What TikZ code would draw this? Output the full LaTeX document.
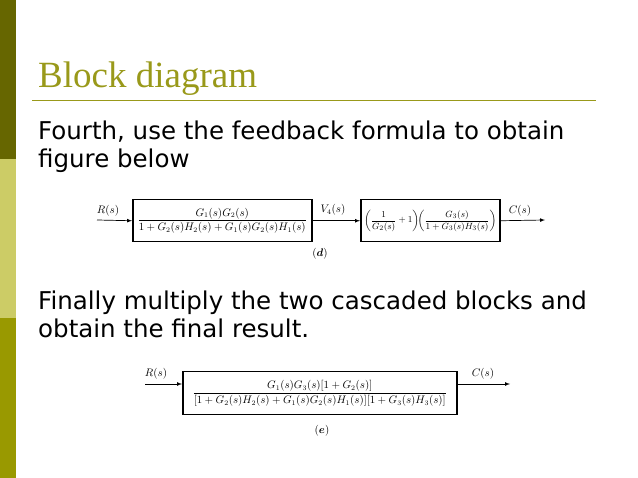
\documentclass[tikz,border=0pt]{standalone}
\usepackage{fontspec}
\setmainfont{DejaVu Sans}
\newfontfamily\titlefont{Liberation Serif}
\usepackage{amsmath}
\definecolor{olive1}{HTML}{666600}
\definecolor{olive2}{HTML}{CCCC66}
\definecolor{olive3}{HTML}{999900}
\definecolor{titlecol}{HTML}{99991A}
\begin{document}
\begin{tikzpicture}[x=1pt,y=-1pt,
  blk/.style={draw,line width=1.5pt,inner sep=0pt,anchor=north west},
  sig/.style={-latex,line width=0.7pt},
  lbl/.style={font=\fontsize{10.5}{11}\selectfont,inner sep=0pt},
  body/.style={anchor=base west,inner sep=0pt,font=\fontsize{24.5}{25}\selectfont}]
\useasboundingbox (0,0) rectangle (638,478);
\fill[olive1] (0,0) rectangle (16,159);
\fill[olive2] (0,159) rectangle (16,318);
\fill[olive3] (0,318) rectangle (16,478);
\node[anchor=base west,inner sep=0pt,text=titlecol,font=\titlefont\fontsize{37}{38}\selectfont] (title) at (38,88) {Block diagram};
\draw[titlecol,line width=1pt] (32,101) -- (596,101);
\node[body] (t1) at (38,140) {Fourth, use the feedback formula to obtain};
\node[body] (t2) at (38,168) {figure below};
\node[body] (t3) at (38,310) {Finally multiply the two cascaded blocks and};
\node[body] (t4) at (38,338) {obtain the final result.};
% diagram d
\node[blk,minimum width=179,minimum height=42] (b1) at (132,199) {};
\node[lbl] at (b1.center) {$\dfrac{G_1(s)G_2(s)}{1+G_2(s)H_2(s)+G_1(s)G_2(s)H_1(s)}$};
\node[blk,minimum width=139,minimum height=42] (b2) at (360,199) {};
\node[lbl,font=\fontsize{9.5}{10}\selectfont] at (b2.center) {$\left(\dfrac{1}{G_2(s)}+1\right)\!\!\left(\dfrac{G_3(s)}{1+G_3(s)H_3(s)}\right)$};
\coordinate (rin) at (97,220);
\coordinate (cout) at (545,220);
\draw[sig] (rin) -- (b1.west);
\draw[sig] (b1.east) -- (b2.west);
\draw[sig] (b2.east) -- (cout);
\node[lbl] (R1) at (108,211) {$R(s)$};
\node[lbl] (V4) at (333,210) {$V_4(s)$};
\node[lbl] (C1) at (520,211) {$C(s)$};
\node[lbl] (d) at (320,254) {$(\boldsymbol{d})$};
% diagram e
\node[blk,minimum width=274,minimum height=43] (b3) at (182,371) {};
\node[lbl] at (b3.center) {$\dfrac{G_1(s)G_3(s)[1+G_2(s)]}{[1+G_2(s)H_2(s)+G_1(s)G_2(s)H_1(s)][1+G_3(s)H_3(s)]}$};
\coordinate (rin2) at (145,384);
\coordinate (cout2) at (510,384);
\draw[sig] (rin2) -- (b3.west |- rin2);
\draw[sig] (b3.east |- cout2) -- (cout2);
\node[lbl] (R2) at (156,374) {$R(s)$};
\node[lbl] (C2) at (483,374) {$C(s)$};
\node[lbl] (e) at (322,431) {$(\boldsymbol{e})$};
\end{tikzpicture}
\end{document}
